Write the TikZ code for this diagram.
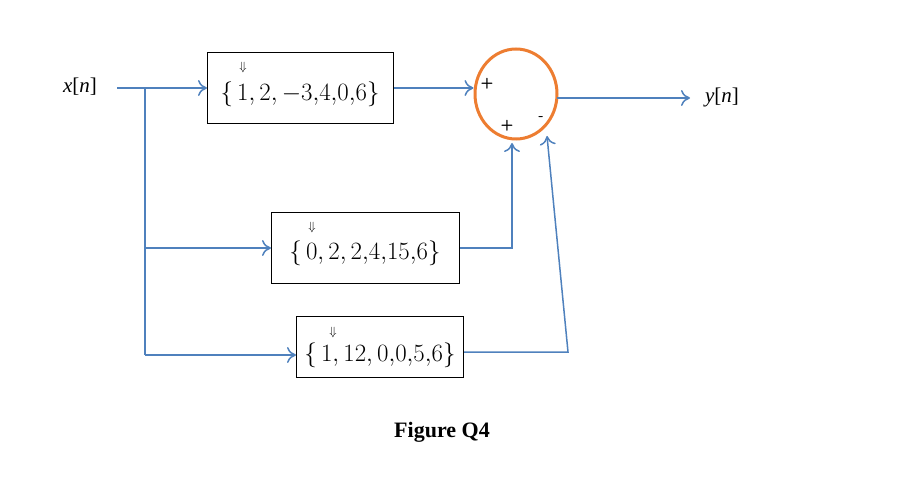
\documentclass[tikz,border=0pt]{standalone}
\usepackage{fontspec}
\newfontfamily\tms{Liberation Serif}
\usetikzlibrary{arrows.meta,shapes.geometric}
\definecolor{ln}{HTML}{4F81BD}
\definecolor{orng}{HTML}{ED7D31}
\begin{document}
\begin{tikzpicture}[x=1pt,y=-1pt,
  blk/.style={draw,line width=1pt,anchor=north west,inner sep=0},
  wire/.style={draw=ln,line width=1.5pt},
  arr/.style={wire,-{To[length=9pt,width=16pt,line width=1.5pt]}},
  lab/.style={font=\fontsize{27}{30}\selectfont},
  dn/.style={font=\fontsize{12}{14}\selectfont},
  sgn/.style={font=\sffamily\bfseries\fontsize{15}{17}\selectfont}]
\useasboundingbox (0,0) rectangle (907,478);
\node[blk,minimum width=186pt,minimum height=71pt] (b1) at (207,52) {};
\node[blk,minimum width=188pt,minimum height=71pt] (b2) at (271,212) {};
\node[blk,minimum width=167pt,minimum height=61pt] (b3) at (296,316) {};
\node[lab] (t1) at (300,94) {$\{\,1, 2, -3{,}4{,}0{,}6\}$};
\node[lab] (t2) at (365,253) {$\{\,0, 2, 2{,}4{,}15{,}6\}$};
\node[lab] (t3) at (380,355) {$\{\,1, 12, 0{,}0{,}5{,}6\}$};
\node[dn] (d1) at (243,68) {$\Downarrow$};
\node[dn] (d2) at (312,228) {$\Downarrow$};
\node[dn] (d3) at (333,332) {$\Downarrow$};
\node[draw=orng,line width=3pt,ellipse,minimum width=82pt,minimum height=90pt,inner sep=0] (s) at (516,94) {};
\node[font=\tms\fontsize{21}{24}\selectfont] (x) at (80,87) {\textit{x}[\textit{n}]};
\node[font=\tms\fontsize{21}{24}\selectfont] (y) at (722,97) {\textit{y}[\textit{n}]};
\node[sgn] (p1) at (487,84) {+};
\node[sgn] (p2) at (507,126) {+};
\node[sgn] (m) at (541,119) {-};
\coordinate (j1) at (145,88);
\coordinate (j2) at (145,248);
\coordinate (j3) at (145,355);
\draw[arr] (117,88) -- (b1.west|-j1);
\draw[wire] (j1) -- (j3);
\draw[arr] (j2) -- (b2.west|-j2);
\draw[arr] (j3) -- (b3.west|-j3);
\draw[arr] (b1.east|-j1) -- (s.west|-j1);
\coordinate (c2) at (512,248);
\draw[arr] (b2.east|-c2) -- (c2) -- (512,143);
\coordinate (c3) at (568,352);
\draw[arr] (b3.east|-c3) -- (c3) -- (547,136);
\draw[arr] (557,98) -- (690,98);
\node[font=\tms\bfseries\fontsize{22}{24}\selectfont] (cap) at (442,432) {Figure Q4};
\end{tikzpicture}
\end{document}
